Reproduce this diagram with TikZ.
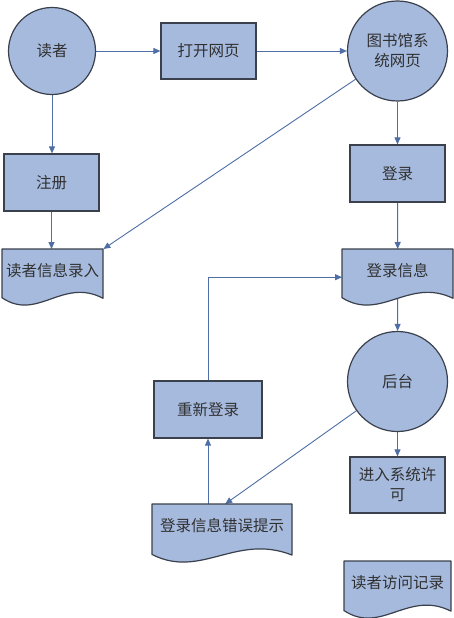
\documentclass[tikz,border=0pt]{standalone}
\usepackage{fontspec}
\newfontfamily\cjk{Noto Sans CJK SC}
\usetikzlibrary{arrows.meta}
\pgfdeclarelayer{bg}
\pgfsetlayers{bg,main}
\definecolor{fillb}{HTML}{A6BADE}
\definecolor{edgec}{HTML}{3A404C}
\definecolor{connc}{HTML}{4F6EA5}
\definecolor{txtc}{HTML}{303030}
\tikzset{
  base/.style={fill=fillb, draw=edgec, line width=1.2pt, text=txtc,
    font=\cjk\fontsize{15.5}{20}\selectfont, align=center, inner sep=0pt},
  circ/.style={base, circle, minimum size=#1},
  box/.style={base, rectangle, minimum width=#1, minimum height=57pt},
  doctext/.style={rectangle, text=txtc, font=\cjk\fontsize{15.5}{20}\selectfont,
    align=center, inner sep=0pt},
  docshape/.style={fill=fillb, draw=edgec, line width=1.2pt, line join=round},
  conn/.style={draw=connc, line width=0.9pt, -{Triangle[length=7pt,width=6pt]}},
}
\newcommand\docnode[6]{%
  \path[docshape] (#2,#3) -- ({#2+#4},#3) -- ({#2+#4},{#3+0.88*#5})
    .. controls ({#2+0.6*#4},{#3+0.5*#5}) and ({#2+0.35*#4},{#3+1.3*#5}) ..
    (#2,{#3+0.87*#5}) -- cycle;
  \pgfmathsetmacro\dochgt{0.75*#5}%
  \node[doctext, minimum width=#4pt, minimum height=\dochgt pt, anchor=north west]
    (#1) at (#2,#3) {#6};
}
\begin{document}
\begin{tikzpicture}[x=1pt,y=-1pt]
\useasboundingbox (0,0) rectangle (454,618);
\node[circ=87pt] (duzhe) at (52,51) {读者};
\node[box=95pt, minimum height=56pt] (dakai) at (208.5,51) {打开网页};
\node[circ=100pt] (tsg) at (397.5,51) {图书馆系\\统网页};
\node[box=95pt] (zhuce) at (51.5,182.5) {注册};
\node[box=95pt] (denglu) at (397.5,173.5) {登录};
\docnode{xinxi}{2}{249}{101}{56}{读者信息录入}
\docnode{dlxx}{342}{249}{111}{56}{登录信息}
\node[circ=100pt] (houtai) at (397.5,381.5) {后台};
\node[box=108pt] (chongxin) at (208,409.5) {重新登录};
\node[box=95pt, minimum height=56pt] (jinru) at (397.5,485) {进入系统许\\可};
\docnode{cuowu}{152}{504}{140}{58}{登录信息错误提示}
\docnode{fangwen}{344}{561}{107}{57}{读者访问记录}
\begin{pgfonlayer}{bg}
  \fill[white] (0,0) rectangle (454,618);
  \draw[conn] (duzhe) -- (dakai);
  \draw[conn] (dakai) -- (tsg);
  \draw[conn] (duzhe.south) -- (duzhe.south |- zhuce.north);
  \draw[conn] (zhuce.south) -- (zhuce.south |- xinxi.north);
  \draw[conn] (tsg) -- (xinxi.north east);
  \draw[conn] (tsg) -- (denglu);
  \draw[conn] (denglu) -- (dlxx.north);
  \draw[conn] (dlxx) -- (houtai);
  \draw[conn] (houtai) -- (jinru);
  \draw[conn] (houtai) -- ([xshift=3pt]cuowu.north);
  \draw[conn] (chongxin.south |- cuowu.north) -- (chongxin.south);
  \draw[conn] (chongxin.north) |- ([yshift=-7pt]dlxx.west);
\end{pgfonlayer}
\end{tikzpicture}
\end{document}
